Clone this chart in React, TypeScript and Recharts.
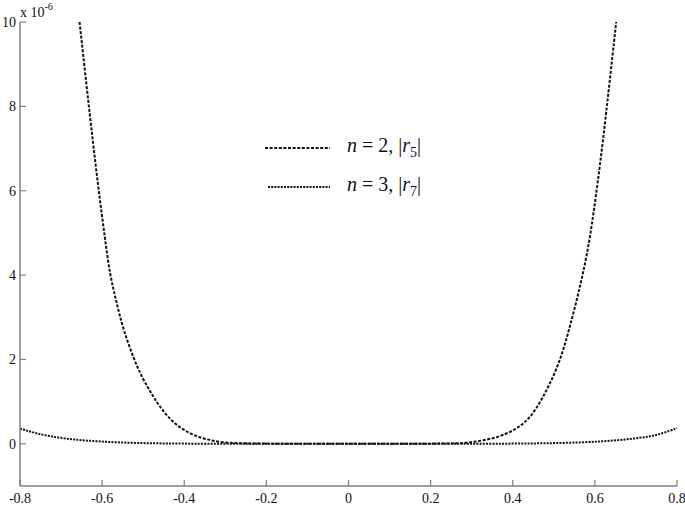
import React from "react";
import { LineChart, Line, XAxis, YAxis, Legend } from "recharts";

// x positions and |r| values (units of 1e-6)
const r5X = [-0.655, -0.638, -0.623, -0.609, -0.593, -0.581, -0.565, -0.549, -0.514, -0.488, -0.463, -0.431, -0.39, -0.35, -0.309, -0.25, -0.1, 0, 0.1, 0.25, 0.288, 0.328, 0.369, 0.41, 0.442, 0.471, 0.511, 0.535, 0.556, 0.572, 0.588, 0.605, 0.62, 0.635, 0.652];
const r5Y = [10, 8.5, 7.2, 6.05, 4.86, 4.0, 3.36, 2.71, 1.78, 1.32, 0.92, 0.53, 0.25, 0.11, 0.03, 0.005, 0, 0, 0, 0.005, 0.02, 0.08, 0.17, 0.35, 0.61, 1.04, 1.83, 2.62, 3.41, 4.07, 4.86, 6.05, 7.2, 8.5, 10];
const r7X = [-0.8, -0.765, -0.729, -0.687, -0.645, -0.565, -0.48, -0.4, -0.3, 0, 0.3, 0.4, 0.48, 0.571, 0.653, 0.69, 0.734, 0.765, 0.8];
const r7Y = [0.36, 0.26, 0.18, 0.12, 0.08, 0.03, 0.012, 0.004, 0.001, 0, 0.001, 0.004, 0.012, 0.03, 0.08, 0.12, 0.17, 0.25, 0.37];

const xTicks = [-0.8, -0.6, -0.4, -0.2, 0, 0.2, 0.4, 0.6, 0.8];
const yTicks = [0, 2, 4, 6, 8, 10];
const xTickLabels = ["-0.8", "-0.6", "-0.4", "-0.2", "0", "0.2", "0.4", "0.6", "0.8"];

const seriesNames = ["n=2, |r5|", "n=3, |r7|"];
const seriesN = ["2", "3"];
const seriesSub = ["5", "7"];

const r5Data = r5X.map((x, i) => ({ x, y: r5Y[i] }));
const r7Data = r7X.map((x, i) => ({ x, y: r7Y[i] }));

const AXIS = "#808080";
const FONT = "'Liberation Serif', 'Times New Roman', serif";
const DASHES = ["3 1.6", "2 1.2"];

const XTick = (props: any) => {
  const { x, y, payload } = props;
  const idx = xTicks.indexOf(payload.value);
  const label = idx >= 0 ? xTickLabels[idx] : String(payload.value);
  return (
    <g>
      <line x1={x} x2={x} y1={y} y2={y - 6} stroke={AXIS} strokeWidth={1.2} />
      <text x={x} y={y + 17} textAnchor="middle" style={{ fontFamily: FONT, fontSize: 14 }} fill="#111">
        {label}
      </text>
    </g>
  );
};

const YTick = (props: any) => {
  const { x, y, payload } = props;
  return (
    <g>
      <line x1={x} x2={x + 6} y1={y} y2={y} stroke={AXIS} strokeWidth={1.2} />
      <text x={x - 4} y={y + 5} textAnchor="end" style={{ fontFamily: FONT, fontSize: 14 }} fill="#111">
        {String(payload.value)}
      </text>
    </g>
  );
};

const LegendContent = () => (
  <div style={{ fontFamily: FONT, fontSize: 20, color: "#111" }}>
    {seriesNames.map((name, i) => (
      <div key={name} style={{ display: "flex", alignItems: "center", height: 39 }}>
        <svg width={70} height={10} style={{ marginLeft: i === 0 ? 0 : 3 }}>
          <line x1={0} x2={i === 0 ? 65 : 62} y1={5} y2={5} stroke="#111" strokeWidth={2} strokeDasharray={DASHES[i]} />
        </svg>
        <span style={{ marginLeft: i === 0 ? 12 : 9, whiteSpace: "nowrap" }}>
          <i>n</i> = {seriesN[i]}, |<i>r</i>
          <sub style={{ fontSize: 14 }}>{seriesSub[i]}</sub>|
        </span>
      </div>
    ))}
  </div>
);

const ExpLabel = (props: any) => {
  const vb = props.viewBox || {};
  const x = vb.x ?? 0;
  const y = vb.y ?? 0;
  return (
    <text x={x + 20} y={y - 5} style={{ fontFamily: FONT, fontSize: 14 }} fill="#111">
      x 10
      <tspan dy={-7} style={{ fontSize: 10 }}>-6</tspan>
    </text>
  );
};

export default function App() {
  return (
    <div style={{ position: "absolute", left: 0, top: 0, width: 685, height: 505, background: "#fff" }}>
      <LineChart width={685} height={505} margin={{ top: 22, right: 8, bottom: 0, left: 0 }}>
        <XAxis
          type="number"
          dataKey="x"
          domain={[-0.8, 0.8]}
          ticks={xTicks}
          allowDataOverflow
          height={19}
          tickSize={0}
          tickMargin={0}
          tickLine={false}
          tick={<XTick />}
          axisLine={{ stroke: AXIS, strokeWidth: 1.5 }}
          interval={0}
        />
        <YAxis
          type="number"
          dataKey="y"
          domain={[-1, 10]}
          ticks={yTicks}
          allowDataOverflow
          width={20}
          tickSize={0}
          tickMargin={0}
          tickLine={false}
          tick={<YTick />}
          axisLine={{ stroke: AXIS, strokeWidth: 1.5 }}
          interval={0}
          label={<ExpLabel />}
        />
        <Legend
          layout="vertical"
          align="center"
          verticalAlign="middle"
          content={<LegendContent />}
          wrapperStyle={{ left: 265, top: 128, width: 220 }}
        />
        <Line
          data={r5Data}
          dataKey="y"
          name={seriesNames[0]}
          type="basis"
          stroke="#111"
          strokeWidth={2}
          strokeDasharray={DASHES[0]}
          dot={false}
          isAnimationActive={false}
        />
        <Line
          data={r7Data}
          dataKey="y"
          name={seriesNames[1]}
          type="basis"
          stroke="#111"
          strokeWidth={2}
          strokeDasharray={DASHES[1]}
          dot={false}
          isAnimationActive={false}
        />
      </LineChart>
    </div>
  );
}
